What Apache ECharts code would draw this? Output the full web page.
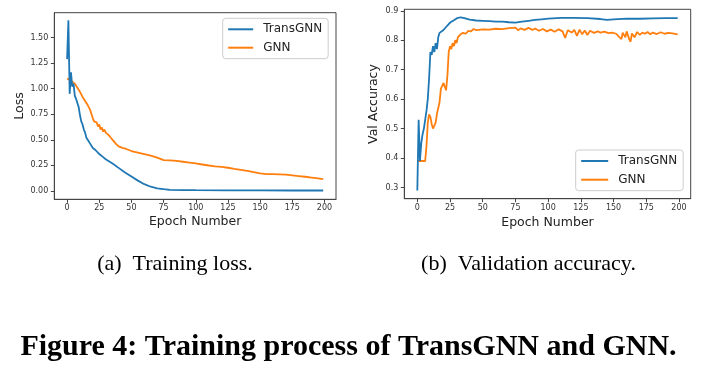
<!DOCTYPE html>
<html><head><meta charset="utf-8">
<script src="https://cdn.jsdelivr.net/npm/echarts@6/dist/echarts.min.js"></script>
<style>html,body{margin:0;padding:0;background:#fff}#c{width:708px;height:376px}</style>
</head><body><div id="c"></div>
<script>
// ---- data ----
const seriesNames = ['TransGNN', 'GNN'];
const epochTicks = [0, 25, 50, 75, 100, 125, 150, 175, 200];
const lossTicks = [0, 0.25, 0.5, 0.75, 1.0, 1.25, 1.5];
const accTicks = [0.3, 0.4, 0.5, 0.6, 0.7, 0.8, 0.9];

const transLossEpoch = [0,1,2,3,4,5,6,7,8,9,10,11,12,13,14,15,16,18,20,22,25,28,30,35,40,45,50,55,60,65,70,75,80,90,100,125,150,175,199];
const transLossValue = [1.29,1.67,0.95,1.16,1.02,1.05,0.93,0.90,0.89,0.82,0.74,0.68,0.65,0.60,0.57,0.52,0.50,0.46,0.42,0.40,0.36,0.33,0.31,0.27,0.225,0.18,0.14,0.10,0.065,0.04,0.025,0.016,0.01,0.007,0.006,0.005,0.004,0.003,0.003];

const gnnLossEpoch = [0,2,4,6,8,10,12,14,16,18,19,20,21,22,23,24,25,26,27,28,29,30,31,32,34,36,38,40,43,46,50,55,60,65,70,75,80,85,90,95,100,105,110,115,120,125,130,135,140,145,150,155,160,165,170,175,180,185,190,195,199];
const gnnLossValue = [1.10,1.09,1.07,1.05,1.01,0.97,0.92,0.88,0.84,0.79,0.75,0.71,0.68,0.69,0.67,0.63,0.65,0.60,0.62,0.58,0.60,0.57,0.58,0.55,0.52,0.49,0.46,0.435,0.42,0.41,0.39,0.375,0.36,0.345,0.325,0.30,0.298,0.293,0.285,0.277,0.268,0.258,0.248,0.24,0.235,0.226,0.215,0.205,0.195,0.184,0.172,0.164,0.163,0.162,0.158,0.152,0.145,0.138,0.13,0.122,0.114];

const transAccEpoch = [0,1,2,3,4,5,6,7,8,9,10,11,12,13,14,15,16,17,18,20,22,24,26,28,30,33,36,40,45,50,55,60,65,70,75,80,85,90,95,100,110,120,130,140,145,150,160,170,180,190,199];
const transAccValue = [0.29,0.53,0.39,0.45,0.48,0.50,0.53,0.56,0.60,0.67,0.76,0.75,0.78,0.76,0.79,0.77,0.81,0.825,0.83,0.835,0.845,0.855,0.863,0.868,0.874,0.878,0.875,0.870,0.867,0.866,0.865,0.863,0.863,0.861,0.860,0.863,0.866,0.869,0.871,0.873,0.876,0.876,0.875,0.872,0.869,0.871,0.873,0.873,0.874,0.875,0.875];

const gnnAccEpoch = [0,6,7,8,9,10,11,12,13,14,15,16,17,18,19,20,21,22,23,24,25,26,27,28,29,30,31,33,35,37,39,41,43,45,50,55,60,65,70,75,77,79,82,85,88,90,93,96,99,102,105,108,111,113,115,118,120,122,124,126,128,130,132,135,138,140,143,146,149,152,154,156,157,159,160,162,163,164,166,168,170,172,174,176,178,180,183,186,189,192,195,199];
const gnnAccValue = [0.39,0.39,0.44,0.52,0.548,0.54,0.515,0.50,0.505,0.52,0.55,0.57,0.59,0.635,0.64,0.655,0.65,0.63,0.68,0.76,0.78,0.77,0.79,0.78,0.80,0.79,0.81,0.82,0.825,0.822,0.832,0.83,0.838,0.834,0.837,0.836,0.839,0.838,0.841,0.843,0.834,0.84,0.835,0.842,0.835,0.840,0.832,0.838,0.830,0.836,0.829,0.837,0.83,0.808,0.834,0.826,0.835,0.815,0.836,0.82,0.833,0.818,0.832,0.825,0.83,0.826,0.829,0.824,0.826,0.822,0.812,0.804,0.826,0.81,0.83,0.803,0.795,0.823,0.81,0.828,0.818,0.826,0.822,0.828,0.82,0.826,0.821,0.827,0.822,0.825,0.823,0.82];

// ---- chart ----
const zip = (xs, ys) => xs.map((x, i) => [x, ys[i]]);
const colors = ['#1f77b4', '#ff7f0e'];
const axisCol = '#444';
const tickFont = { fontFamily: 'DejaVu Sans', fontSize: 8, color: '#333' };
const nameFont = { fontFamily: 'DejaVu Sans', fontSize: 12.5, color: '#222' };

function xAxis(gi) {
  return {
    type: 'value', gridIndex: gi, min: -9.95, max: 208.95,
    name: 'Epoch Number', nameLocation: 'middle', nameGap: 16, nameTextStyle: nameFont,
    axisLine: { show: true, onZero: false, lineStyle: { color: axisCol, width: 1 } },
    axisTick: { show: true, length: 3.5, customValues: epochTicks, lineStyle: { color: axisCol } },
    axisLabel: Object.assign({ margin: 5, customValues: epochTicks, formatter: v => String(v) }, tickFont),
    splitLine: { show: false }
  };
}
function yAxis(gi, name, gap, min, max, ticks, dec) {
  return {
    type: 'value', gridIndex: gi, min: min, max: max,
    name: name, nameLocation: 'middle', nameGap: gap, nameTextStyle: nameFont,
    axisLine: { show: true, onZero: false, lineStyle: { color: axisCol, width: 1 } },
    axisTick: { show: true, length: 3.5, customValues: ticks, lineStyle: { color: axisCol } },
    axisLabel: Object.assign({ margin: 6, customValues: ticks, formatter: v => Number(v).toFixed(dec) }, tickFont),
    splitLine: { show: false }
  };
}
function legend(left, top, iw, gap) {
  return {
    data: seriesNames, orient: 'vertical', left: left, top: top, selectedMode: false,
    padding: [5, 6, 5, 5.5], itemWidth: iw, itemHeight: 2, icon: 'rect', itemGap: gap,
    borderColor: '#ccc', borderWidth: 1, borderRadius: 3, backgroundColor: 'rgba(255,255,255,0.85)',
    textStyle: { fontFamily: 'DejaVu Sans', fontSize: 12, color: '#222', padding: [0, 0, 0, 5] }
  };
}
function line(name, gi, data, ci) {
  return {
    type: 'line', name: name, xAxisIndex: gi, yAxisIndex: gi, data: data,
    showSymbol: false, symbol: 'none', color: colors[ci],
    lineStyle: { width: 1.8, color: colors[ci] }, z: ci === 0 ? 3 : 2
  };
}

const chart = echarts.init(document.getElementById('c'), null, { renderer: 'canvas' });
chart.setOption({
  animation: false,
  grid: [
    { left: 54.3, top: 12.7, width: 281.7, height: 186.6, show: true, borderColor: axisCol, borderWidth: 1, backgroundColor: 'transparent' },
    { left: 404.3, top: 9.3, width: 286.4, height: 189.4, show: true, borderColor: axisCol, borderWidth: 1, backgroundColor: 'transparent' }
  ],
  xAxis: [xAxis(0), xAxis(1)],
  yAxis: [
    yAxis(0, 'Loss', 28, -0.083, 1.745, lossTicks, 2),
    yAxis(1, 'Val Accuracy', 24, 0.262, 0.905, accTicks, 1)
  ],
  legend: [legend(222.7, 18.3, 25, 6.4), legend(575.7, 150, 27, 6.7)],
  series: [
    line('TransGNN', 0, zip(transLossEpoch, transLossValue), 0),
    line('GNN', 0, zip(gnnLossEpoch, gnnLossValue), 1),
    line('TransGNN', 1, zip(transAccEpoch, transAccValue), 0),
    line('GNN', 1, zip(gnnAccEpoch, gnnAccValue), 1)
  ],
  graphic: [
    { type: 'text', x: 175, y: 264.5, style: { text: '(a)  Training loss.', fontFamily: 'Liberation Serif', fontSize: 22, fill: '#000', align: 'center', verticalAlign: 'middle' } },
    { type: 'text', x: 528.5, y: 264.5, style: { text: '(b)  Validation accuracy.', fontFamily: 'Liberation Serif', fontSize: 22, fill: '#000', align: 'center', verticalAlign: 'middle' } },
    { type: 'text', x: 348.5, y: 347.5, style: { text: 'Figure 4: Training process of TransGNN and GNN.', fontFamily: 'Liberation Serif', fontWeight: 'bold', fontSize: 30, fill: '#000', align: 'center', verticalAlign: 'middle' } }
  ]
});
</script></body></html>
